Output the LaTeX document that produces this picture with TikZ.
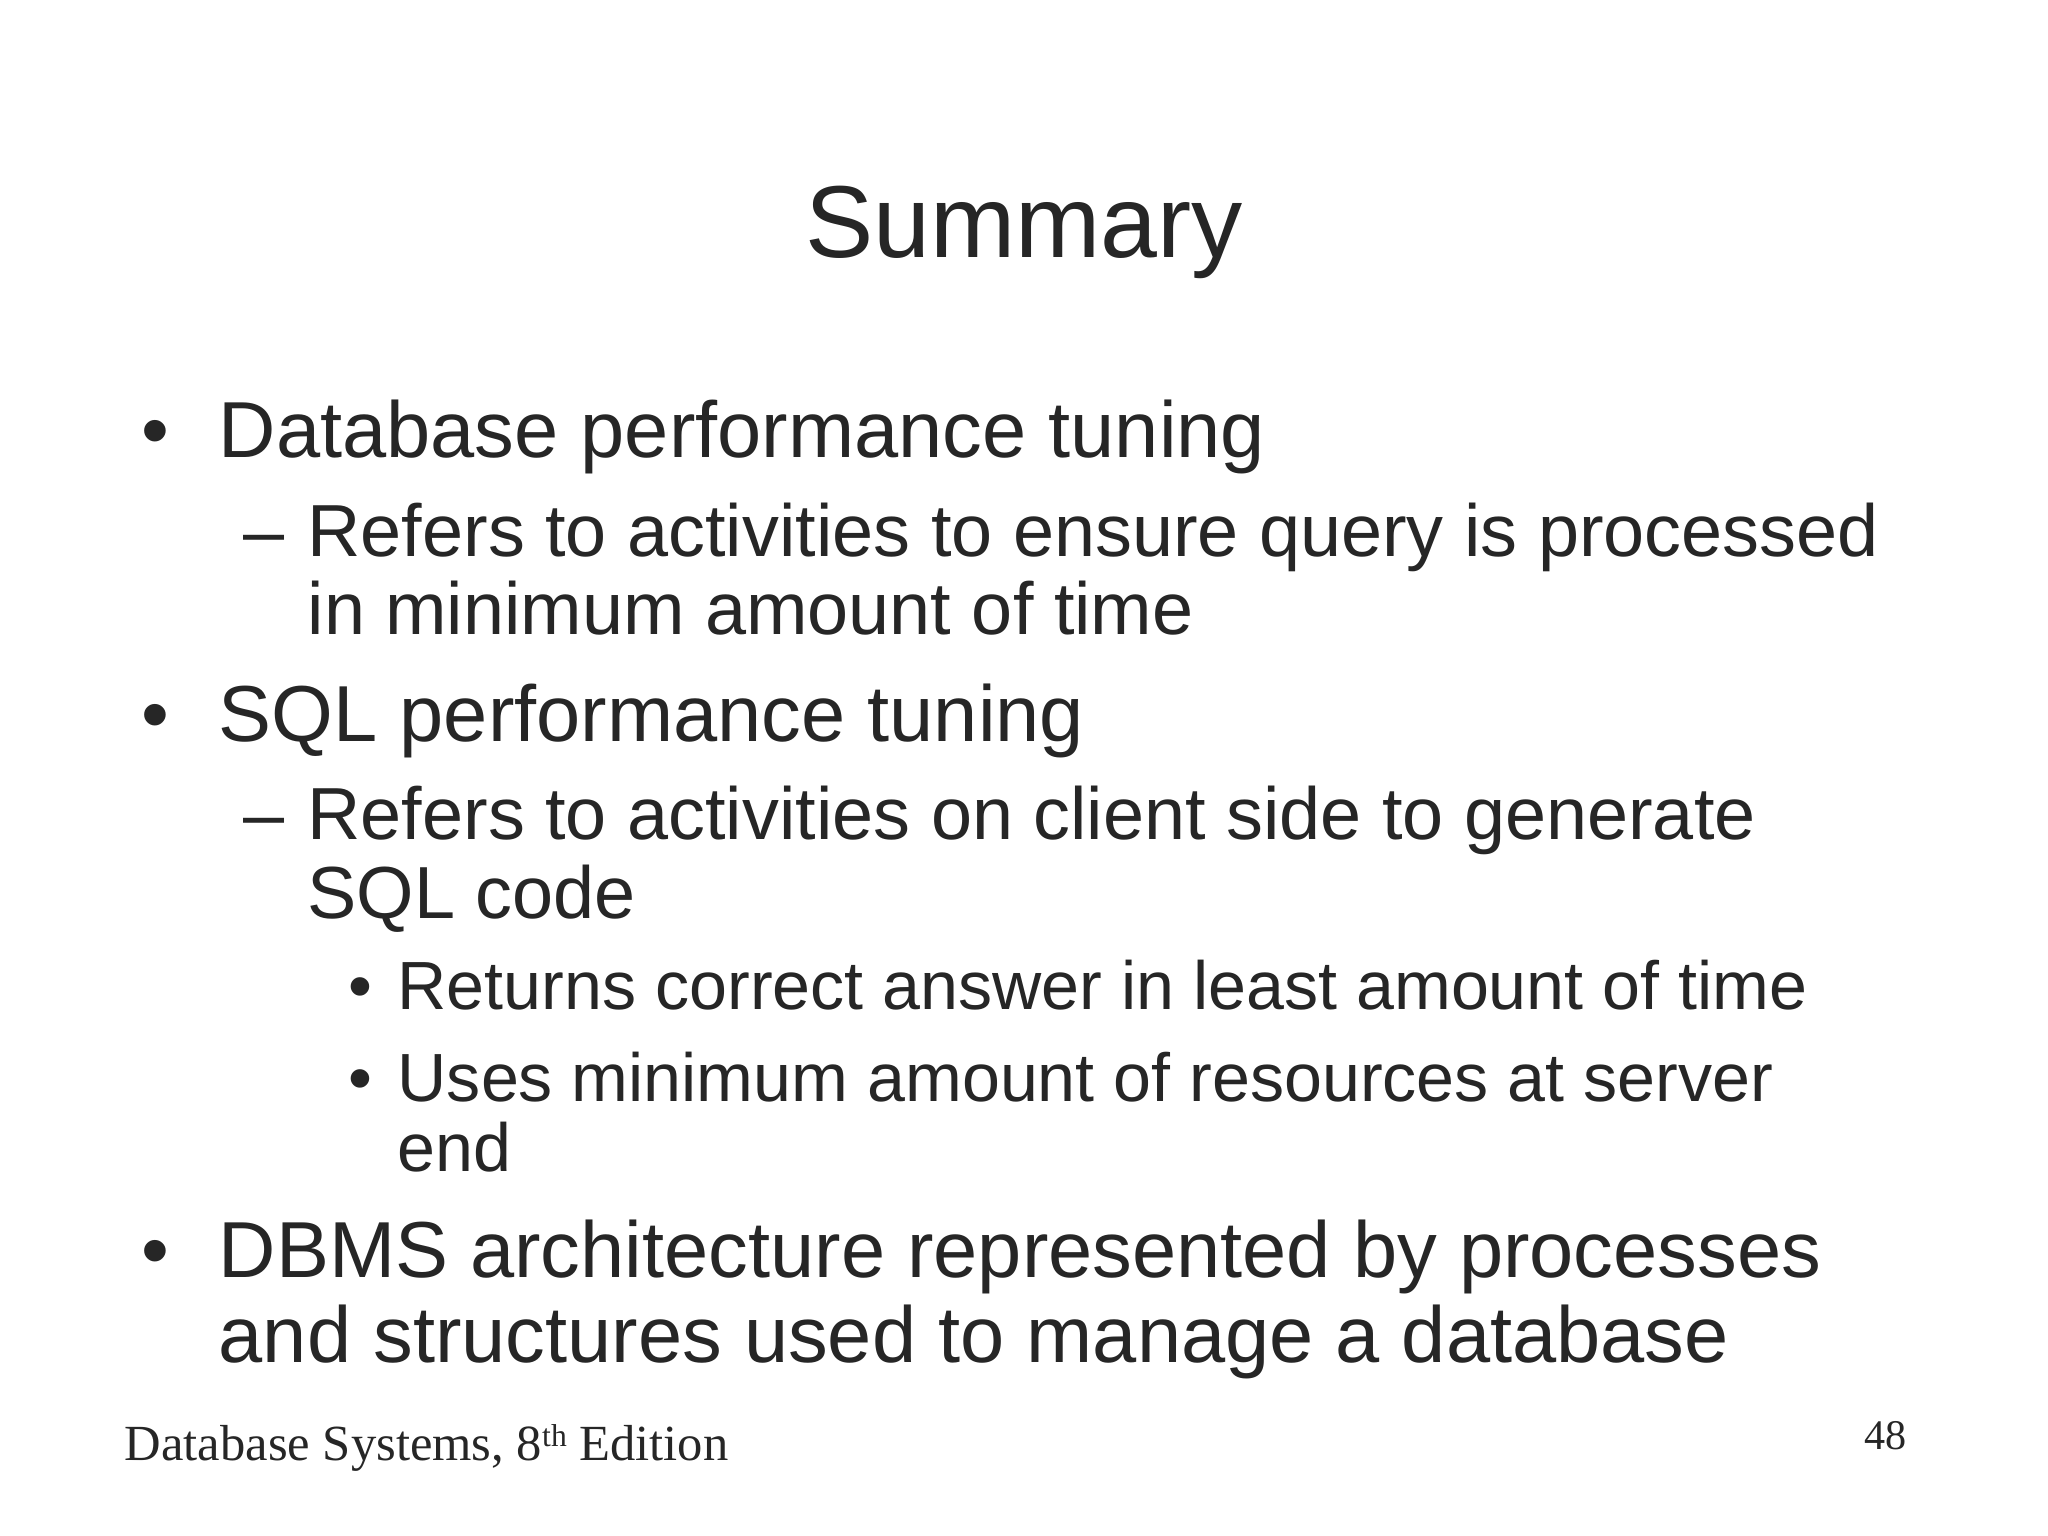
\documentclass[tikz,border=0pt]{standalone}
\usepackage{fontspec}
\setmainfont{Liberation Sans}
\newfontfamily\timesf{Liberation Serif}
\definecolor{txt}{HTML}{262626}
\begin{document}
\begin{tikzpicture}[x=0.013061cm,y=-0.013061cm,
  every node/.style={anchor=base west,inner sep=0pt,text=txt},
  lone/.style={font=\fontsize{22.6}{24}\selectfont},
  ltwo/.style={font=\fontsize{21.0}{22}\selectfont},
  lthree/.style={font=\fontsize{19.4}{20}\selectfont},
  foot/.style={font=\timesf\fontsize{14.4}{16}\selectfont}]
\useasboundingbox (0,0) rectangle (1568,1176);
\node[anchor=base,font=\fontsize{29.1}{32}\selectfont] (title) at (784,197) {Summary};
\node[lone] (b1) at (108,350) {•};
\node[lone] (t1) at (167,350) {Database performance tuning};
\node[ltwo] (d1) at (186,426) {–};
\node[ltwo] (t2) at (235,426) {Refers to activities to ensure query is processed};
\node[ltwo] (t3) at (235,486) {in minimum amount of time};
\node[lone] (b2) at (108,568) {•};
\node[lone] (t4) at (167,568) {SQL performance tuning};
\node[ltwo] (d2) at (186,643) {–};
\node[ltwo] (t5) at (235,643) {Refers to activities on client side to generate};
\node[ltwo] (t6) at (235,703) {SQL code};
\node[lthree] (b3) at (266,773) {•};
\node[lthree] (t7) at (304,773) {Returns correct answer in least amount of time};
\node[lthree] (b4) at (266,843) {•};
\node[lthree] (t8) at (304,843) {Uses minimum amount of resources at server};
\node[lthree] (t9) at (304,897) {end};
\node[lone] (b5) at (108,978) {•};
\node[lone] (t10) at (167,978) {DBMS architecture represented by processes};
\node[lone] (t11) at (167,1043) {and structures used to manage a database};
\node[foot] (f1) at (95,1118) {Database Systems, 8\raisebox{0.6ex}{\fontsize{9}{10}\selectfont th} Edition};
\node[foot,font=\timesf\fontsize{12}{14}\selectfont,anchor=base east] (f2) at (1460,1110) {48};
\end{tikzpicture}
\end{document}
